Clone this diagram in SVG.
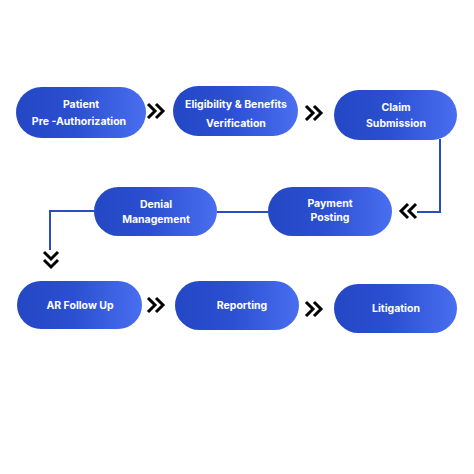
<svg xmlns="http://www.w3.org/2000/svg" width="474" height="474" viewBox="0 0 474 474">
<defs>
<linearGradient id="g" x1="0" y1="0" x2="1" y2="0">
<stop offset="0" stop-color="#2447c4"/>
<stop offset="0.45" stop-color="#2a4fd0"/>
<stop offset="1" stop-color="#4a6ef0"/>
</linearGradient>
<style>
.n{fill:url(#g)}
.t{font-family:Inter,"Liberation Sans",sans-serif;font-weight:700;font-size:10.5px;fill:#fff;text-anchor:middle}
.c{fill:none;stroke:#2a4cc0;stroke-width:2}
.ch{fill:none;stroke:#000;stroke-width:3;stroke-linejoin:miter}
</style>
</defs>
<rect width="474" height="474" fill="#fff"/>
<g id="connectors">
<polyline class="c" points="440,139 440,212 417,212"/>
<line class="c" x1="217" y1="212" x2="268" y2="212"/>
<polyline class="c" points="94,211 50,211 50,250"/>
<path class="ch" d="M148,104 L155,111 L148,118 M156,104 L163,111 L156,118"/>
<path class="ch" d="M306,106 L313,113 L306,120 M314,106 L321,113 L314,120"/>
<path class="ch" d="M416,204 L409,211 L416,218 M408,204 L401,211 L408,218"/>
<path class="ch" d="M44,252 L51,259 L58,252 M44,260 L51,267 L58,260"/>
<path class="ch" d="M148,298 L155,305 L148,312 M156,298 L163,305 L156,312"/>
<path class="ch" d="M306,302 L313,309 L306,316 M314,302 L321,309 L314,316"/>
</g>
<g id="n1"><rect class="n" x="16" y="87" width="130" height="51" rx="25.5"/><text class="t" x="81" y="108">Patient</text><text class="t" x="79" y="125">Pre -Authorization</text></g>
<g id="n2"><rect class="n" x="173" y="86" width="125" height="50" rx="25"/><text class="t" x="236" y="108">Eligibility &amp; Benefits</text><text class="t" x="236" y="127">Verification</text></g>
<g id="n3"><rect class="n" x="334" y="90" width="123" height="50" rx="25"/><text class="t" x="396" y="111">Claim</text><text class="t" x="396" y="127">Submission</text></g>
<g id="n4"><rect class="n" x="94" y="187" width="123" height="49" rx="24.5"/><text class="t" x="156" y="208">Denial</text><text class="t" x="156" y="223">Management</text></g>
<g id="n5"><rect class="n" x="268" y="187" width="124" height="49" rx="24.5"/><text class="t" x="330" y="207">Payment</text><text class="t" x="330" y="221">Posting</text></g>
<g id="n6"><rect class="n" x="17" y="281" width="125" height="48" rx="24"/><text class="t" x="80" y="309">AR Follow Up</text></g>
<g id="n7"><rect class="n" x="175" y="281" width="124" height="49" rx="24.5"/><text class="t" x="242" y="309">Reporting</text></g>
<g id="n8"><rect class="n" x="334" y="284" width="123" height="49" rx="24.5"/><text class="t" x="396" y="312">Litigation</text></g>
</svg>
